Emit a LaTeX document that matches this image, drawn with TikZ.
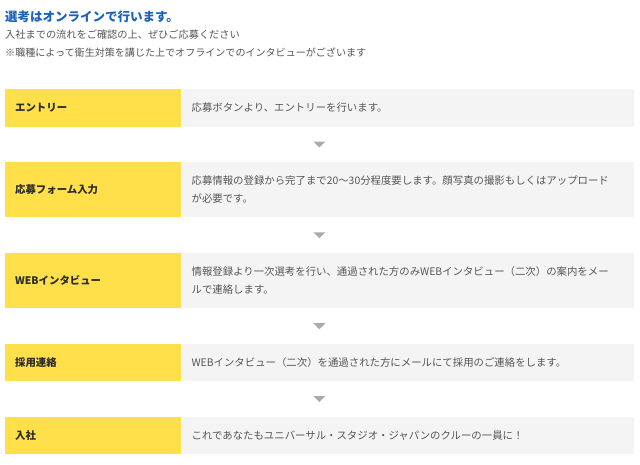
\documentclass[tikz,border=0pt]{standalone}
\usepackage{fontspec}
\setmainfont{Noto Sans CJK JP}
\usetikzlibrary{calc}
\definecolor{ttl}{HTML}{1C62B9}
\definecolor{ylw}{HTML}{FFE04B}
\definecolor{gry}{HTML}{F4F4F4}
\definecolor{txt}{HTML}{555555}
\definecolor{sub}{HTML}{555555}
\definecolor{lbl}{HTML}{2B2B2B}
\definecolor{arw}{HTML}{ABABAB}
\begin{document}
\begin{tikzpicture}[x=1pt,y=-1pt,
  lab/.style={fill=ylw, anchor=west, minimum width=176pt, text width=156pt, inner xsep=10pt, inner ysep=0pt, align=left, font=\bfseries\fontsize{10.4}{18}\selectfont, text=lbl},
  desc/.style={fill=gry, anchor=west, minimum width=452pt, text width=432pt, inner xsep=10pt, inner ysep=0pt, align=left, font=\fontsize{10.4}{18}\selectfont, text=txt},
  head/.style={anchor=west, inner sep=0pt, font=\bfseries\fontsize{12.5}{14}\selectfont, text=ttl},
  note/.style={anchor=west, inner sep=0pt, text=sub},
  tri/.style={fill=arw}]
\useasboundingbox[fill=white] (0,0) rectangle (640,464);

\node[head] (title) at (5,17) {選考はオンラインで行います。};
\node[note, font=\fontsize{10.2}{12}\selectfont] (n1) at (5,34.5) {入社までの流れをご確認の上、ぜひご応募ください};
\node[note, font=\fontsize{10.05}{12}\selectfont] (n2) at (5,52.5) {※職種によって衛生対策を講じた上でオフラインでのインタビューがございます};

\node[lab, minimum height=37.4pt] (l1) at (5,108) {エントリー};
\node[desc, minimum height=37.4pt] (d1) at (l1.east) {応募ボタンより、エントリーを行います。};

\node[lab, minimum height=55pt] (l2) at (5,189.8) {応募フォーム入力};
\node[desc, minimum height=55pt] (d2) at (l2.east) {応募情報の登録から完了まで20〜30分程度要します。顔写真の撮影もしくはアップロード\\が必要です。};

\node[lab, minimum height=55pt] (l3) at (5,280.8) {WEBインタビュー};
\node[desc, minimum height=55pt] (d3) at (l3.east) {情報登録より一次選考を行い、通過された方のみWEBインタビュー（二次）の案内をメー\\ルで連絡します。};

\node[lab, minimum height=37.3pt] (l4) at (5,362.7) {採用連絡};
\node[desc, minimum height=37.3pt] (d4) at (l4.east) {WEBインタビュー（二次）を通過された方にメールにて採用のご連絡をします。};

\node[lab, minimum height=37.3pt] (l5) at (5,435.3) {入社};
\node[desc, minimum height=37.3pt] (d5) at (l5.east) {これであなたもユニバーサル・スタジオ・ジャパンのクルーの一員に！};

\foreach \i/\j in {1/2,2/3,3/4,4/5}{
  \coordinate (a\i) at ($($(l\i.south west)!.5!(d\i.south east)$)!.5!($(l\j.north west)!.5!(d\j.north east)$)$);
  \fill[tri] ($(a\i)+(-6,-3)$) -- ($(a\i)+(6,-3)$) -- ($(a\i)+(0,3)$) -- cycle;
}
\end{tikzpicture}
\end{document}
